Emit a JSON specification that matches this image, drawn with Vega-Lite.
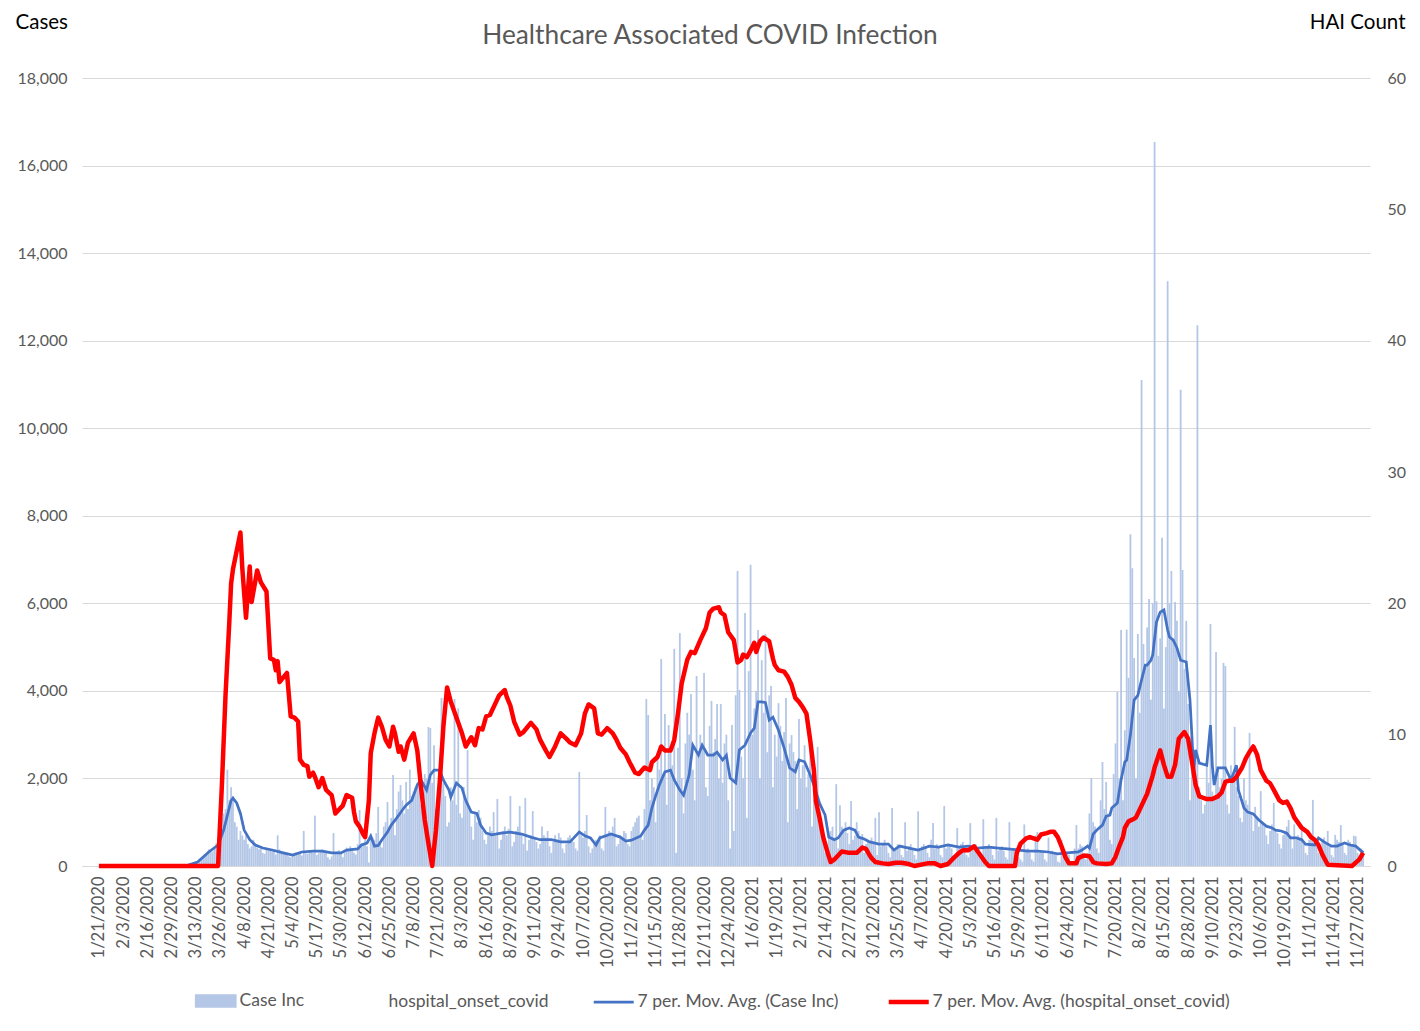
{
"$schema":"https://vega.github.io/schema/vega-lite/v6.json",
"autosize":{"type":"none"},
"width":1288,"height":788,
"padding":{"left":82,"top":78,"right":50,"bottom":165},
"background":"white",
"config":{"font":"Lato","view":{"stroke":null},"axisX":{"tickCount":100,"labelOverlap":false,"labelBound":false,"labelFlush":false,"labelSeparation":-30,"labelAngle":-90,"labelFontSize":16.5,"labelColor":"#595959","labelPadding":10,"ticks":false,"grid":false,"domainColor":"#D9D9D9","title":null}},
"title":{"text":"Healthcare Associated COVID Infection","fontSize":26.3,"fontWeight":"normal","color":"#595959","font":"Lato","anchor":"middle","frame":"group","dx":-16,"dy":47,"offset":10},
"datasets":{
"bars":[
{"d":"2020-03-09","c":20},{"d":"2020-03-10","c":30},{"d":"2020-03-11","c":40},{"d":"2020-03-12","c":60},{"d":"2020-03-13","c":90},{"d":"2020-03-14","c":80},{"d":"2020-03-15","c":120},{"d":"2020-03-16","c":150},{"d":"2020-03-17","c":200},{"d":"2020-03-18","c":260},{"d":"2020-03-19","c":300},{"d":"2020-03-20","c":380},{"d":"2020-03-21","c":340},{"d":"2020-03-22","c":330},{"d":"2020-03-23","c":420},{"d":"2020-03-24","c":520},{"d":"2020-03-25","c":610},{"d":"2020-03-26","c":700},{"d":"2020-03-27","c":1100},{"d":"2020-03-28","c":1200},{"d":"2020-03-29","c":1300},{"d":"2020-03-30","c":2200},{"d":"2020-03-31","c":1500},
{"d":"2020-04-01","c":1800},{"d":"2020-04-02","c":1600},{"d":"2020-04-03","c":1000},{"d":"2020-04-04","c":900},{"d":"2020-04-05","c":600},{"d":"2020-04-06","c":800},{"d":"2020-04-07","c":700},{"d":"2020-04-08","c":600},{"d":"2020-04-09","c":700},{"d":"2020-04-10","c":500},{"d":"2020-04-11","c":400},{"d":"2020-04-12","c":450},{"d":"2020-04-13","c":600},{"d":"2020-04-14","c":480},{"d":"2020-04-15","c":420},{"d":"2020-04-16","c":380},{"d":"2020-04-17","c":400},{"d":"2020-04-18","c":300},{"d":"2020-04-19","c":280},{"d":"2020-04-20","c":420},{"d":"2020-04-21","c":360},{"d":"2020-04-22","c":380},{"d":"2020-04-23","c":330},{"d":"2020-04-24","c":350},{"d":"2020-04-25","c":260},{"d":"2020-04-26","c":700},{"d":"2020-04-27","c":380},{"d":"2020-04-28","c":300},{"d":"2020-04-29","c":320},{"d":"2020-04-30","c":290},
{"d":"2020-05-01","c":300},{"d":"2020-05-02","c":220},{"d":"2020-05-03","c":200},{"d":"2020-05-04","c":280},{"d":"2020-05-05","c":260},{"d":"2020-05-06","c":310},{"d":"2020-05-07","c":290},{"d":"2020-05-08","c":330},{"d":"2020-05-09","c":240},{"d":"2020-05-10","c":800},{"d":"2020-05-11","c":300},{"d":"2020-05-12","c":280},{"d":"2020-05-13","c":340},{"d":"2020-05-14","c":360},{"d":"2020-05-15","c":310},{"d":"2020-05-16","c":1150},{"d":"2020-05-17","c":250},{"d":"2020-05-18","c":290},{"d":"2020-05-19","c":320},{"d":"2020-05-20","c":380},{"d":"2020-05-21","c":350},{"d":"2020-05-22","c":330},{"d":"2020-05-23","c":200},{"d":"2020-05-24","c":150},{"d":"2020-05-25","c":220},{"d":"2020-05-26","c":750},{"d":"2020-05-27","c":300},{"d":"2020-05-28","c":330},{"d":"2020-05-29","c":360},{"d":"2020-05-30","c":280},{"d":"2020-05-31","c":200},
{"d":"2020-06-01","c":350},{"d":"2020-06-02","c":420},{"d":"2020-06-03","c":380},{"d":"2020-06-04","c":450},{"d":"2020-06-05","c":400},{"d":"2020-06-06","c":300},{"d":"2020-06-07","c":260},{"d":"2020-06-08","c":500},{"d":"2020-06-09","c":1280},{"d":"2020-06-10","c":480},{"d":"2020-06-11","c":520},{"d":"2020-06-12","c":600},{"d":"2020-06-13","c":450},{"d":"2020-06-14","c":80},{"d":"2020-06-15","c":700},{"d":"2020-06-16","c":650},{"d":"2020-06-17","c":600},{"d":"2020-06-18","c":750},{"d":"2020-06-19","c":1350},{"d":"2020-06-20","c":500},{"d":"2020-06-21","c":420},{"d":"2020-06-22","c":900},{"d":"2020-06-23","c":1000},{"d":"2020-06-24","c":1460},{"d":"2020-06-25","c":900},{"d":"2020-06-26","c":1100},{"d":"2020-06-27","c":2080},{"d":"2020-06-28","c":700},{"d":"2020-06-29","c":1300},{"d":"2020-06-30","c":1700},
{"d":"2020-07-01","c":1850},{"d":"2020-07-02","c":1500},{"d":"2020-07-03","c":1200},{"d":"2020-07-04","c":1920},{"d":"2020-07-05","c":1300},{"d":"2020-07-06","c":2200},{"d":"2020-07-07","c":1600},{"d":"2020-07-08","c":1700},{"d":"2020-07-09","c":1800},{"d":"2020-07-10","c":1900},{"d":"2020-07-11","c":2000},{"d":"2020-07-12","c":1400},{"d":"2020-07-13","c":1500},{"d":"2020-07-14","c":2100},{"d":"2020-07-15","c":2000},{"d":"2020-07-16","c":3175},{"d":"2020-07-17","c":3150},{"d":"2020-07-18","c":1900},{"d":"2020-07-19","c":2760},{"d":"2020-07-20","c":1300},{"d":"2020-07-21","c":1700},{"d":"2020-07-22","c":2200},{"d":"2020-07-23","c":3840},{"d":"2020-07-24","c":1900},{"d":"2020-07-25","c":1600},{"d":"2020-07-26","c":900},{"d":"2020-07-27","c":1000},{"d":"2020-07-28","c":1800},{"d":"2020-07-29","c":1500},{"d":"2020-07-30","c":3815},{"d":"2020-07-31","c":1400},
{"d":"2020-08-01","c":3600},{"d":"2020-08-02","c":1200},{"d":"2020-08-03","c":1100},{"d":"2020-08-04","c":1800},{"d":"2020-08-05","c":1500},{"d":"2020-08-06","c":2650},{"d":"2020-08-07","c":1300},{"d":"2020-08-08","c":900},{"d":"2020-08-09","c":600},{"d":"2020-08-10","c":1200},{"d":"2020-08-11","c":1000},{"d":"2020-08-12","c":1280},{"d":"2020-08-13","c":1100},{"d":"2020-08-14","c":800},{"d":"2020-08-15","c":600},{"d":"2020-08-16","c":500},{"d":"2020-08-17","c":700},{"d":"2020-08-18","c":900},{"d":"2020-08-19","c":800},{"d":"2020-08-20","c":1230},{"d":"2020-08-21","c":700},{"d":"2020-08-22","c":1530},{"d":"2020-08-23","c":400},{"d":"2020-08-24","c":600},{"d":"2020-08-25","c":800},{"d":"2020-08-26","c":900},{"d":"2020-08-27","c":700},{"d":"2020-08-28","c":850},{"d":"2020-08-29","c":1600},{"d":"2020-08-30","c":450},{"d":"2020-08-31","c":550},
{"d":"2020-09-01","c":800},{"d":"2020-09-02","c":900},{"d":"2020-09-03","c":1370},{"d":"2020-09-04","c":700},{"d":"2020-09-05","c":500},{"d":"2020-09-06","c":1550},{"d":"2020-09-07","c":350},{"d":"2020-09-08","c":600},{"d":"2020-09-09","c":700},{"d":"2020-09-10","c":1255},{"d":"2020-09-11","c":650},{"d":"2020-09-12","c":550},{"d":"2020-09-13","c":400},{"d":"2020-09-14","c":500},{"d":"2020-09-15","c":900},{"d":"2020-09-16","c":700},{"d":"2020-09-17","c":650},{"d":"2020-09-18","c":800},{"d":"2020-09-19","c":450},{"d":"2020-09-20","c":300},{"d":"2020-09-21","c":550},{"d":"2020-09-22","c":700},{"d":"2020-09-23","c":600},{"d":"2020-09-24","c":750},{"d":"2020-09-25","c":650},{"d":"2020-09-26","c":400},{"d":"2020-09-27","c":300},{"d":"2020-09-28","c":500},{"d":"2020-09-29","c":650},{"d":"2020-09-30","c":700},
{"d":"2020-10-01","c":600},{"d":"2020-10-02","c":550},{"d":"2020-10-03","c":400},{"d":"2020-10-04","c":350},{"d":"2020-10-05","c":2150},{"d":"2020-10-06","c":700},{"d":"2020-10-07","c":650},{"d":"2020-10-08","c":800},{"d":"2020-10-09","c":1165},{"d":"2020-10-10","c":450},{"d":"2020-10-11","c":300},{"d":"2020-10-12","c":400},{"d":"2020-10-13","c":500},{"d":"2020-10-14","c":600},{"d":"2020-10-15","c":550},{"d":"2020-10-16","c":700},{"d":"2020-10-17","c":400},{"d":"2020-10-18","c":350},{"d":"2020-10-19","c":1350},{"d":"2020-10-20","c":700},{"d":"2020-10-21","c":800},{"d":"2020-10-22","c":750},{"d":"2020-10-23","c":900},{"d":"2020-10-24","c":1100},{"d":"2020-10-25","c":450},{"d":"2020-10-26","c":500},{"d":"2020-10-27","c":700},{"d":"2020-10-28","c":650},{"d":"2020-10-29","c":800},{"d":"2020-10-30","c":750},{"d":"2020-10-31","c":500},
{"d":"2020-11-01","c":450},{"d":"2020-11-02","c":800},{"d":"2020-11-03","c":900},{"d":"2020-11-04","c":1000},{"d":"2020-11-05","c":1100},{"d":"2020-11-06","c":1150},{"d":"2020-11-07","c":700},{"d":"2020-11-08","c":600},{"d":"2020-11-09","c":1300},{"d":"2020-11-10","c":3815},{"d":"2020-11-11","c":3450},{"d":"2020-11-12","c":1500},{"d":"2020-11-13","c":2000},{"d":"2020-11-14","c":1800},{"d":"2020-11-15","c":1000},{"d":"2020-11-16","c":2500},{"d":"2020-11-17","c":2200},{"d":"2020-11-18","c":4730},{"d":"2020-11-19","c":2100},{"d":"2020-11-20","c":3470},{"d":"2020-11-21","c":1400},{"d":"2020-11-22","c":3220},{"d":"2020-11-23","c":2600},{"d":"2020-11-24","c":2300},{"d":"2020-11-25","c":4960},{"d":"2020-11-26","c":300},{"d":"2020-11-27","c":2700},{"d":"2020-11-28","c":5320},{"d":"2020-11-29","c":2000},{"d":"2020-11-30","c":1200},
{"d":"2020-12-01","c":2800},{"d":"2020-12-02","c":3500},{"d":"2020-12-03","c":3000},{"d":"2020-12-04","c":3930},{"d":"2020-12-05","c":2200},{"d":"2020-12-06","c":1500},{"d":"2020-12-07","c":4340},{"d":"2020-12-08","c":2500},{"d":"2020-12-09","c":3000},{"d":"2020-12-10","c":2800},{"d":"2020-12-11","c":4410},{"d":"2020-12-12","c":1800},{"d":"2020-12-13","c":1600},{"d":"2020-12-14","c":3200},{"d":"2020-12-15","c":3770},{"d":"2020-12-16","c":2600},{"d":"2020-12-17","c":2900},{"d":"2020-12-18","c":3700},{"d":"2020-12-19","c":2000},{"d":"2020-12-20","c":3700},{"d":"2020-12-21","c":1900},{"d":"2020-12-22","c":2800},{"d":"2020-12-23","c":3000},{"d":"2020-12-24","c":1500},{"d":"2020-12-25","c":400},{"d":"2020-12-26","c":3220},{"d":"2020-12-27","c":800},{"d":"2020-12-28","c":3900},{"d":"2020-12-29","c":6740},{"d":"2020-12-30","c":4020},{"d":"2020-12-31","c":2500},
{"d":"2021-01-01","c":2000},{"d":"2021-01-02","c":5780},{"d":"2021-01-03","c":1100},{"d":"2021-01-04","c":4450},{"d":"2021-01-05","c":6880},{"d":"2021-01-06","c":3000},{"d":"2021-01-07","c":3600},{"d":"2021-01-08","c":4000},{"d":"2021-01-09","c":5390},{"d":"2021-01-10","c":2000},{"d":"2021-01-11","c":4700},{"d":"2021-01-12","c":3500},{"d":"2021-01-13","c":5300},{"d":"2021-01-14","c":2600},{"d":"2021-01-15","c":3900},{"d":"2021-01-16","c":4110},{"d":"2021-01-17","c":1800},{"d":"2021-01-18","c":3000},{"d":"2021-01-19","c":2500},{"d":"2021-01-20","c":3720},{"d":"2021-01-21","c":3200},{"d":"2021-01-22","c":2400},{"d":"2021-01-23","c":3060},{"d":"2021-01-24","c":3840},{"d":"2021-01-25","c":1000},{"d":"2021-01-26","c":2800},{"d":"2021-01-27","c":2990},{"d":"2021-01-28","c":2600},{"d":"2021-01-29","c":2400},{"d":"2021-01-30","c":1300},{"d":"2021-01-31","c":3360},
{"d":"2021-02-01","c":2000},{"d":"2021-02-02","c":2300},{"d":"2021-02-03","c":2760},{"d":"2021-02-04","c":1800},{"d":"2021-02-05","c":2100},{"d":"2021-02-06","c":2730},{"d":"2021-02-07","c":900},{"d":"2021-02-08","c":1500},{"d":"2021-02-09","c":1700},{"d":"2021-02-10","c":2720},{"d":"2021-02-11","c":1300},{"d":"2021-02-12","c":1100},{"d":"2021-02-13","c":600},{"d":"2021-02-14","c":300},{"d":"2021-02-15","c":500},{"d":"2021-02-16","c":700},{"d":"2021-02-17","c":800},{"d":"2021-02-18","c":900},{"d":"2021-02-19","c":650},{"d":"2021-02-20","c":1870},{"d":"2021-02-21","c":400},{"d":"2021-02-22","c":1390},{"d":"2021-02-23","c":900},{"d":"2021-02-24","c":800},{"d":"2021-02-25","c":1000},{"d":"2021-02-26","c":750},{"d":"2021-02-27","c":500},{"d":"2021-02-28","c":1485},
{"d":"2021-03-01","c":600},{"d":"2021-03-02","c":700},{"d":"2021-03-03","c":1000},{"d":"2021-03-04","c":800},{"d":"2021-03-05","c":650},{"d":"2021-03-06","c":730},{"d":"2021-03-07","c":300},{"d":"2021-03-08","c":500},{"d":"2021-03-09","c":600},{"d":"2021-03-10","c":550},{"d":"2021-03-11","c":650},{"d":"2021-03-12","c":500},{"d":"2021-03-13","c":1100},{"d":"2021-03-14","c":250},{"d":"2021-03-15","c":1230},{"d":"2021-03-16","c":450},{"d":"2021-03-17","c":500},{"d":"2021-03-18","c":600},{"d":"2021-03-19","c":450},{"d":"2021-03-20","c":300},{"d":"2021-03-21","c":200},{"d":"2021-03-22","c":1325},{"d":"2021-03-23","c":350},{"d":"2021-03-24","c":400},{"d":"2021-03-25","c":500},{"d":"2021-03-26","c":450},{"d":"2021-03-27","c":250},{"d":"2021-03-28","c":200},{"d":"2021-03-29","c":1000},{"d":"2021-03-30","c":350},{"d":"2021-03-31","c":450},
{"d":"2021-04-01","c":500},{"d":"2021-04-02","c":400},{"d":"2021-04-03","c":250},{"d":"2021-04-04","c":150},{"d":"2021-04-05","c":1250},{"d":"2021-04-06","c":350},{"d":"2021-04-07","c":450},{"d":"2021-04-08","c":500},{"d":"2021-04-09","c":450},{"d":"2021-04-10","c":300},{"d":"2021-04-11","c":200},{"d":"2021-04-12","c":600},{"d":"2021-04-13","c":980},{"d":"2021-04-14","c":400},{"d":"2021-04-15","c":500},{"d":"2021-04-16","c":450},{"d":"2021-04-17","c":250},{"d":"2021-04-18","c":200},{"d":"2021-04-19","c":1370},{"d":"2021-04-20","c":400},{"d":"2021-04-21","c":450},{"d":"2021-04-22","c":500},{"d":"2021-04-23","c":400},{"d":"2021-04-24","c":250},{"d":"2021-04-25","c":200},{"d":"2021-04-26","c":870},{"d":"2021-04-27","c":450},{"d":"2021-04-28","c":500},{"d":"2021-04-29","c":550},{"d":"2021-04-30","c":400},
{"d":"2021-05-01","c":250},{"d":"2021-05-02","c":200},{"d":"2021-05-03","c":980},{"d":"2021-05-04","c":400},{"d":"2021-05-05","c":450},{"d":"2021-05-06","c":500},{"d":"2021-05-07","c":400},{"d":"2021-05-08","c":250},{"d":"2021-05-09","c":150},{"d":"2021-05-10","c":1070},{"d":"2021-05-11","c":400},{"d":"2021-05-12","c":450},{"d":"2021-05-13","c":500},{"d":"2021-05-14","c":400},{"d":"2021-05-15","c":250},{"d":"2021-05-16","c":150},{"d":"2021-05-17","c":1100},{"d":"2021-05-18","c":350},{"d":"2021-05-19","c":400},{"d":"2021-05-20","c":450},{"d":"2021-05-21","c":350},{"d":"2021-05-22","c":200},{"d":"2021-05-23","c":150},{"d":"2021-05-24","c":1000},{"d":"2021-05-25","c":350},{"d":"2021-05-26","c":400},{"d":"2021-05-27","c":400},{"d":"2021-05-28","c":350},{"d":"2021-05-29","c":200},{"d":"2021-05-30","c":150},{"d":"2021-05-31","c":100},
{"d":"2021-06-01","c":950},{"d":"2021-06-02","c":350},{"d":"2021-06-03","c":400},{"d":"2021-06-04","c":300},{"d":"2021-06-05","c":150},{"d":"2021-06-06","c":100},{"d":"2021-06-07","c":700},{"d":"2021-06-08","c":775},{"d":"2021-06-09","c":300},{"d":"2021-06-10","c":350},{"d":"2021-06-11","c":300},{"d":"2021-06-12","c":150},{"d":"2021-06-13","c":100},{"d":"2021-06-14","c":650},{"d":"2021-06-15","c":300},{"d":"2021-06-16","c":350},{"d":"2021-06-17","c":300},{"d":"2021-06-18","c":250},{"d":"2021-06-19","c":100},{"d":"2021-06-20","c":80},{"d":"2021-06-21","c":600},{"d":"2021-06-22","c":300},{"d":"2021-06-23","c":350},{"d":"2021-06-24","c":300},{"d":"2021-06-25","c":250},{"d":"2021-06-26","c":100},{"d":"2021-06-27","c":80},{"d":"2021-06-28","c":400},{"d":"2021-06-29","c":935},{"d":"2021-06-30","c":400},
{"d":"2021-07-01","c":500},{"d":"2021-07-02","c":450},{"d":"2021-07-03","c":200},{"d":"2021-07-04","c":150},{"d":"2021-07-05","c":300},{"d":"2021-07-06","c":1200},{"d":"2021-07-07","c":2010},{"d":"2021-07-08","c":1000},{"d":"2021-07-09","c":900},{"d":"2021-07-10","c":400},{"d":"2021-07-11","c":300},{"d":"2021-07-12","c":1500},{"d":"2021-07-13","c":2375},{"d":"2021-07-14","c":1300},{"d":"2021-07-15","c":1920},{"d":"2021-07-16","c":1200},{"d":"2021-07-17","c":600},{"d":"2021-07-18","c":500},{"d":"2021-07-19","c":2100},{"d":"2021-07-20","c":2800},{"d":"2021-07-21","c":3975},{"d":"2021-07-22","c":2000},{"d":"2021-07-23","c":5390},{"d":"2021-07-24","c":1500},{"d":"2021-07-25","c":3100},{"d":"2021-07-26","c":5400},{"d":"2021-07-27","c":4300},{"d":"2021-07-28","c":7580},{"d":"2021-07-29","c":6800},{"d":"2021-07-30","c":4750},{"d":"2021-07-31","c":2000},
{"d":"2021-08-01","c":5300},{"d":"2021-08-02","c":3500},{"d":"2021-08-03","c":11100},{"d":"2021-08-04","c":5070},{"d":"2021-08-05","c":4600},{"d":"2021-08-06","c":5450},{"d":"2021-08-07","c":6100},{"d":"2021-08-08","c":3800},{"d":"2021-08-09","c":6000},{"d":"2021-08-10","c":16540},{"d":"2021-08-11","c":6050},{"d":"2021-08-12","c":4800},{"d":"2021-08-13","c":5200},{"d":"2021-08-14","c":7500},{"d":"2021-08-15","c":3600},{"d":"2021-08-16","c":5000},{"d":"2021-08-17","c":13360},{"d":"2021-08-18","c":6000},{"d":"2021-08-19","c":6740},{"d":"2021-08-20","c":5200},{"d":"2021-08-21","c":6030},{"d":"2021-08-22","c":5600},{"d":"2021-08-23","c":4000},{"d":"2021-08-24","c":10880},{"d":"2021-08-25","c":6760},{"d":"2021-08-26","c":4500},{"d":"2021-08-27","c":5600},{"d":"2021-08-28","c":3700},{"d":"2021-08-29","c":1500},{"d":"2021-08-30","c":3000},{"d":"2021-08-31","c":2500},
{"d":"2021-09-01","c":2400},{"d":"2021-09-02","c":12350},{"d":"2021-09-03","c":1800},{"d":"2021-09-04","c":1500},{"d":"2021-09-05","c":1200},{"d":"2021-09-06","c":1400},{"d":"2021-09-07","c":2300},{"d":"2021-09-08","c":1900},{"d":"2021-09-09","c":5530},{"d":"2021-09-10","c":1700},{"d":"2021-09-11","c":1500},{"d":"2021-09-12","c":4890},{"d":"2021-09-13","c":2200},{"d":"2021-09-14","c":1800},{"d":"2021-09-15","c":2000},{"d":"2021-09-16","c":4640},{"d":"2021-09-17","c":4570},{"d":"2021-09-18","c":1400},{"d":"2021-09-19","c":1200},{"d":"2021-09-20","c":2300},{"d":"2021-09-21","c":1900},{"d":"2021-09-22","c":3180},{"d":"2021-09-23","c":1800},{"d":"2021-09-24","c":1600},{"d":"2021-09-25","c":1100},{"d":"2021-09-26","c":1000},{"d":"2021-09-27","c":2000},{"d":"2021-09-28","c":1500},{"d":"2021-09-29","c":1400},{"d":"2021-09-30","c":3040},
{"d":"2021-10-01","c":1200},{"d":"2021-10-02","c":800},{"d":"2021-10-03","c":1350},{"d":"2021-10-04","c":1100},{"d":"2021-10-05","c":900},{"d":"2021-10-06","c":1710},{"d":"2021-10-07","c":1000},{"d":"2021-10-08","c":900},{"d":"2021-10-09","c":700},{"d":"2021-10-10","c":500},{"d":"2021-10-11","c":800},{"d":"2021-10-12","c":950},{"d":"2021-10-13","c":1440},{"d":"2021-10-14","c":800},{"d":"2021-10-15","c":750},{"d":"2021-10-16","c":500},{"d":"2021-10-17","c":400},{"d":"2021-10-18","c":700},{"d":"2021-10-19","c":800},{"d":"2021-10-20","c":900},{"d":"2021-10-21","c":1050},{"d":"2021-10-22","c":700},{"d":"2021-10-23","c":400},{"d":"2021-10-24","c":950},{"d":"2021-10-25","c":600},{"d":"2021-10-26","c":700},{"d":"2021-10-27","c":650},{"d":"2021-10-28","c":850},{"d":"2021-10-29","c":500},{"d":"2021-10-30","c":300},{"d":"2021-10-31","c":250},
{"d":"2021-11-01","c":600},{"d":"2021-11-02","c":700},{"d":"2021-11-03","c":1510},{"d":"2021-11-04","c":550},{"d":"2021-11-05","c":500},{"d":"2021-11-06","c":300},{"d":"2021-11-07","c":250},{"d":"2021-11-08","c":600},{"d":"2021-11-09","c":650},{"d":"2021-11-10","c":500},{"d":"2021-11-11","c":800},{"d":"2021-11-12","c":450},{"d":"2021-11-13","c":250},{"d":"2021-11-14","c":200},{"d":"2021-11-15","c":710},{"d":"2021-11-16","c":600},{"d":"2021-11-17","c":550},{"d":"2021-11-18","c":935},{"d":"2021-11-19","c":500},{"d":"2021-11-20","c":300},{"d":"2021-11-21","c":250},{"d":"2021-11-22","c":600},{"d":"2021-11-23","c":550},{"d":"2021-11-24","c":500},{"d":"2021-11-25","c":690},{"d":"2021-11-26","c":680},{"d":"2021-11-27","c":300},{"d":"2021-11-28","c":250},{"d":"2021-11-29","c":400},{"d":"2021-11-30","c":350}
],
"cma":[
{"d":"2020-01-21","m":0},{"d":"2020-03-07","m":0},{"d":"2020-03-09","m":20},{"d":"2020-03-14","m":90},{"d":"2020-03-20","m":320},{"d":"2020-03-25","m":480},{"d":"2020-03-28","m":820},{"d":"2020-03-30","m":1160},{"d":"2020-04-01","m":1500},{"d":"2020-04-02","m":1550},{"d":"2020-04-04","m":1440},{"d":"2020-04-06","m":1200},{"d":"2020-04-08","m":820},{"d":"2020-04-11","m":600},{"d":"2020-04-14","m":480},{"d":"2020-04-18","m":410},{"d":"2020-04-23","m":365},{"d":"2020-04-29","m":300},{"d":"2020-05-04","m":250},{"d":"2020-05-09","m":320},{"d":"2020-05-15","m":340},{"d":"2020-05-20","m":340},{"d":"2020-05-25","m":300},{"d":"2020-05-30","m":300},{"d":"2020-06-02","m":365},{"d":"2020-06-08","m":390},{"d":"2020-06-10","m":480},{"d":"2020-06-13","m":525},{"d":"2020-06-15","m":685},{"d":"2020-06-17","m":455},{"d":"2020-06-19","m":470},{"d":"2020-06-21","m":600},{"d":"2020-06-24","m":775},{"d":"2020-06-26","m":935},{"d":"2020-06-29","m":1100},{"d":"2020-07-02","m":1280},{"d":"2020-07-04","m":1390},{"d":"2020-07-07","m":1500},{"d":"2020-07-10","m":1850},{"d":"2020-07-12","m":1965},{"d":"2020-07-15","m":1735},{"d":"2020-07-17","m":2080},{"d":"2020-07-19","m":2190},{"d":"2020-07-22","m":2190},{"d":"2020-07-24","m":1965},{"d":"2020-07-27","m":1735},{"d":"2020-07-28","m":1575},{"d":"2020-07-31","m":1895},{"d":"2020-08-03","m":1780},{"d":"2020-08-05","m":1500},{"d":"2020-08-08","m":1230},{"d":"2020-08-11","m":1200},{"d":"2020-08-13","m":935},{"d":"2020-08-16","m":750},{"d":"2020-08-19","m":710},{"d":"2020-08-24","m":750},{"d":"2020-08-29","m":775},{"d":"2020-09-04","m":730},{"d":"2020-09-09","m":660},{"d":"2020-09-14","m":600},{"d":"2020-09-20","m":600},{"d":"2020-09-25","m":550},{"d":"2020-09-30","m":550},{"d":"2020-10-05","m":775},{"d":"2020-10-08","m":690},{"d":"2020-10-11","m":640},{"d":"2020-10-14","m":480},{"d":"2020-10-16","m":640},{"d":"2020-10-22","m":730},{"d":"2020-10-27","m":660},{"d":"2020-10-30","m":570},{"d":"2020-11-02","m":590},{"d":"2020-11-07","m":685},{"d":"2020-11-09","m":820},{"d":"2020-11-11","m":935},{"d":"2020-11-13","m":1325},{"d":"2020-11-15","m":1600},{"d":"2020-11-17","m":1850},{"d":"2020-11-20","m":2150},{"d":"2020-11-23","m":2190},{"d":"2020-11-25","m":1965},{"d":"2020-11-28","m":1735},{"d":"2020-11-30","m":1620},{"d":"2020-12-03","m":2080},{"d":"2020-12-05","m":2760},{"d":"2020-12-08","m":2535},{"d":"2020-12-10","m":2760},{"d":"2020-12-13","m":2535},{"d":"2020-12-16","m":2535},{"d":"2020-12-18","m":2600},{"d":"2020-12-21","m":2420},{"d":"2020-12-23","m":2530},{"d":"2020-12-25","m":2010},{"d":"2020-12-28","m":1900},{"d":"2020-12-30","m":2650},{"d":"2021-01-02","m":2760},{"d":"2021-01-05","m":3040},{"d":"2021-01-07","m":3150},{"d":"2021-01-09","m":3750},{"d":"2021-01-11","m":3750},{"d":"2021-01-13","m":3730},{"d":"2021-01-15","m":3335},{"d":"2021-01-17","m":3400},{"d":"2021-01-20","m":3100},{"d":"2021-01-23","m":2700},{"d":"2021-01-26","m":2240},{"d":"2021-01-29","m":2150},{"d":"2021-01-31","m":2420},{"d":"2021-02-03","m":2380},{"d":"2021-02-06","m":2080},{"d":"2021-02-08","m":1850},{"d":"2021-02-11","m":1440},{"d":"2021-02-14","m":1165},{"d":"2021-02-16","m":660},{"d":"2021-02-19","m":600},{"d":"2021-02-21","m":640},{"d":"2021-02-24","m":820},{"d":"2021-02-27","m":870},{"d":"2021-03-02","m":820},{"d":"2021-03-04","m":660},{"d":"2021-03-07","m":615},{"d":"2021-03-10","m":550},{"d":"2021-03-15","m":500},{"d":"2021-03-20","m":500},{"d":"2021-03-23","m":365},{"d":"2021-03-26","m":455},{"d":"2021-03-31","m":410},{"d":"2021-04-05","m":365},{"d":"2021-04-11","m":455},{"d":"2021-04-16","m":430},{"d":"2021-04-21","m":480},{"d":"2021-04-27","m":430},{"d":"2021-05-02","m":455},{"d":"2021-05-07","m":410},{"d":"2021-05-13","m":430},{"d":"2021-05-18","m":410},{"d":"2021-05-23","m":390},{"d":"2021-05-29","m":365},{"d":"2021-06-03","m":340},{"d":"2021-06-08","m":340},{"d":"2021-06-14","m":320},{"d":"2021-06-19","m":275},{"d":"2021-06-24","m":300},{"d":"2021-06-30","m":320},{"d":"2021-07-02","m":365},{"d":"2021-07-05","m":455},{"d":"2021-07-06","m":410},{"d":"2021-07-08","m":730},{"d":"2021-07-10","m":820},{"d":"2021-07-13","m":935},{"d":"2021-07-15","m":1140},{"d":"2021-07-17","m":1160},{"d":"2021-07-18","m":1325},{"d":"2021-07-21","m":1440},{"d":"2021-07-23","m":1965},{"d":"2021-07-25","m":2375},{"d":"2021-07-26","m":2420},{"d":"2021-07-28","m":2990},{"d":"2021-07-30","m":3790},{"d":"2021-08-01","m":3900},{"d":"2021-08-03","m":4250},{"d":"2021-08-05","m":4590},{"d":"2021-08-06","m":4590},{"d":"2021-08-08","m":4700},{"d":"2021-08-09","m":4820},{"d":"2021-08-11","m":5570},{"d":"2021-08-13","m":5800},{"d":"2021-08-15","m":5850},{"d":"2021-08-17","m":5390},{"d":"2021-08-18","m":5230},{"d":"2021-08-20","m":5160},{"d":"2021-08-22","m":4980},{"d":"2021-08-24","m":4700},{"d":"2021-08-27","m":4660},{"d":"2021-08-29","m":3790},{"d":"2021-08-31","m":2190},{"d":"2021-09-01","m":2650},{"d":"2021-09-03","m":2350},{"d":"2021-09-07","m":2300},{"d":"2021-09-09","m":3220},{"d":"2021-09-10","m":2300},{"d":"2021-09-11","m":1850},{"d":"2021-09-13","m":2240},{"d":"2021-09-17","m":2240},{"d":"2021-09-20","m":1965},{"d":"2021-09-23","m":2300},{"d":"2021-09-24","m":1735},{"d":"2021-09-27","m":1325},{"d":"2021-09-29","m":1230},{"d":"2021-10-02","m":1190},{"d":"2021-10-05","m":1050},{"d":"2021-10-09","m":910},{"d":"2021-10-12","m":870},{"d":"2021-10-14","m":820},{"d":"2021-10-17","m":800},{"d":"2021-10-20","m":750},{"d":"2021-10-22","m":640},{"d":"2021-10-25","m":640},{"d":"2021-10-28","m":600},{"d":"2021-10-30","m":500},{"d":"2021-11-04","m":480},{"d":"2021-11-06","m":640},{"d":"2021-11-09","m":550},{"d":"2021-11-13","m":455},{"d":"2021-11-16","m":455},{"d":"2021-11-20","m":525},{"d":"2021-11-23","m":480},{"d":"2021-11-26","m":455},{"d":"2021-11-29","m":340},{"d":"2021-11-30","m":300}
],
"hai":[
{"d":"2020-01-21","h":0},{"d":"2020-03-25","h":0},{"d":"2020-03-27","h":6},{"d":"2020-03-29","h":13},{"d":"2020-03-31","h":18.5},{"d":"2020-04-01","h":21.5},{"d":"2020-04-02","h":22.6},{"d":"2020-04-06","h":25.4},{"d":"2020-04-07","h":22.7},{"d":"2020-04-09","h":18.9},{"d":"2020-04-11","h":22.8},{"d":"2020-04-12","h":20.1},{"d":"2020-04-15","h":22.5},{"d":"2020-04-17","h":21.6},{"d":"2020-04-20","h":20.9},{"d":"2020-04-22","h":15.8},{"d":"2020-04-24","h":15.7},{"d":"2020-04-25","h":14.9},{"d":"2020-04-26","h":15.6},{"d":"2020-04-27","h":14},{"d":"2020-05-01","h":14.7},{"d":"2020-05-03","h":11.4},{"d":"2020-05-05","h":11.3},{"d":"2020-05-07","h":11},{"d":"2020-05-08","h":8.1},{"d":"2020-05-10","h":7.7},{"d":"2020-05-12","h":7.6},{"d":"2020-05-13","h":6.8},{"d":"2020-05-15","h":7.1},{"d":"2020-05-16","h":6.8},{"d":"2020-05-18","h":6},{"d":"2020-05-20","h":6.7},{"d":"2020-05-22","h":5.8},{"d":"2020-05-25","h":5.4},{"d":"2020-05-27","h":4},{"d":"2020-05-29","h":4.3},{"d":"2020-05-31","h":4.6},{"d":"2020-06-02","h":5.4},{"d":"2020-06-05","h":5.2},{"d":"2020-06-06","h":4.1},{"d":"2020-06-07","h":3.4},{"d":"2020-06-09","h":3},{"d":"2020-06-11","h":2.4},{"d":"2020-06-12","h":2.2},{"d":"2020-06-14","h":5},{"d":"2020-06-15","h":8.6},{"d":"2020-06-17","h":10.1},{"d":"2020-06-19","h":11.3},{"d":"2020-06-21","h":10.6},{"d":"2020-06-23","h":9.6},{"d":"2020-06-25","h":9.1},{"d":"2020-06-27","h":10.6},{"d":"2020-06-28","h":10.1},{"d":"2020-06-30","h":8.7},{"d":"2020-07-01","h":9.1},{"d":"2020-07-03","h":8.1},{"d":"2020-07-05","h":9.4},{"d":"2020-07-08","h":10.1},{"d":"2020-07-10","h":8.8},{"d":"2020-07-12","h":6},{"d":"2020-07-14","h":3.5},{"d":"2020-07-16","h":1.7},{"d":"2020-07-18","h":0},{"d":"2020-07-20","h":2.7},{"d":"2020-07-22","h":6.3},{"d":"2020-07-24","h":10.6},{"d":"2020-07-26","h":13.6},{"d":"2020-07-28","h":12.5},{"d":"2020-07-30","h":11.7},{"d":"2020-08-01","h":10.9},{"d":"2020-08-03","h":10.1},{"d":"2020-08-05","h":9.1},{"d":"2020-08-08","h":9.8},{"d":"2020-08-10","h":9.2},{"d":"2020-08-12","h":10.5},{"d":"2020-08-14","h":10.4},{"d":"2020-08-16","h":11.4},{"d":"2020-08-18","h":11.5},{"d":"2020-08-21","h":12.4},{"d":"2020-08-23","h":13},{"d":"2020-08-26","h":13.4},{"d":"2020-08-27","h":12.9},{"d":"2020-08-29","h":12.2},{"d":"2020-08-31","h":11},{"d":"2020-09-03","h":10},{"d":"2020-09-05","h":10.2},{"d":"2020-09-09","h":10.9},{"d":"2020-09-12","h":10.4},{"d":"2020-09-14","h":9.6},{"d":"2020-09-17","h":8.8},{"d":"2020-09-19","h":8.3},{"d":"2020-09-22","h":9.1},{"d":"2020-09-25","h":10.1},{"d":"2020-09-28","h":9.7},{"d":"2020-09-30","h":9.4},{"d":"2020-10-03","h":9.2},{"d":"2020-10-06","h":10.1},{"d":"2020-10-08","h":11.6},{"d":"2020-10-10","h":12.3},{"d":"2020-10-13","h":12},{"d":"2020-10-15","h":10.1},{"d":"2020-10-17","h":10},{"d":"2020-10-20","h":10.5},{"d":"2020-10-23","h":10.1},{"d":"2020-10-25","h":9.6},{"d":"2020-10-27","h":9},{"d":"2020-10-30","h":8.5},{"d":"2020-11-01","h":7.9},{"d":"2020-11-04","h":7.1},{"d":"2020-11-06","h":7},{"d":"2020-11-09","h":7.5},{"d":"2020-11-12","h":7.3},{"d":"2020-11-13","h":7.9},{"d":"2020-11-16","h":8.3},{"d":"2020-11-18","h":9.1},{"d":"2020-11-20","h":8.8},{"d":"2020-11-23","h":8.8},{"d":"2020-11-25","h":9.6},{"d":"2020-11-27","h":11.6},{"d":"2020-11-29","h":13.9},{"d":"2020-12-02","h":15.7},{"d":"2020-12-04","h":16.3},{"d":"2020-12-06","h":16.2},{"d":"2020-12-09","h":17.2},{"d":"2020-12-12","h":18.1},{"d":"2020-12-14","h":19.3},{"d":"2020-12-16","h":19.6},{"d":"2020-12-19","h":19.7},{"d":"2020-12-20","h":19.3},{"d":"2020-12-22","h":19.1},{"d":"2020-12-24","h":17.8},{"d":"2020-12-27","h":17.2},{"d":"2020-12-29","h":15.5},{"d":"2020-12-31","h":15.7},{"d":"2021-01-01","h":16.1},{"d":"2021-01-03","h":15.9},{"d":"2021-01-05","h":16.4},{"d":"2021-01-07","h":17},{"d":"2021-01-08","h":16.3},{"d":"2021-01-10","h":17.1},{"d":"2021-01-12","h":17.4},{"d":"2021-01-14","h":17.2},{"d":"2021-01-15","h":17.1},{"d":"2021-01-17","h":15.8},{"d":"2021-01-18","h":15.3},{"d":"2021-01-20","h":14.9},{"d":"2021-01-23","h":14.8},{"d":"2021-01-25","h":14.4},{"d":"2021-01-27","h":13.8},{"d":"2021-01-29","h":12.8},{"d":"2021-01-31","h":12.5},{"d":"2021-02-02","h":12.1},{"d":"2021-02-04","h":11.6},{"d":"2021-02-06","h":9.6},{"d":"2021-02-08","h":7.3},{"d":"2021-02-09","h":5},{"d":"2021-02-11","h":3.7},{"d":"2021-02-13","h":2.2},{"d":"2021-02-15","h":1.2},{"d":"2021-02-17","h":0.3},{"d":"2021-02-19","h":0.5},{"d":"2021-02-21","h":0.8},{"d":"2021-02-23","h":1.1},{"d":"2021-02-27","h":1},{"d":"2021-03-03","h":1},{"d":"2021-03-06","h":1.4},{"d":"2021-03-08","h":1.3},{"d":"2021-03-10","h":0.8},{"d":"2021-03-11","h":0.6},{"d":"2021-03-13","h":0.3},{"d":"2021-03-17","h":0.2},{"d":"2021-03-20","h":0.15},{"d":"2021-03-24","h":0.25},{"d":"2021-03-27","h":0.25},{"d":"2021-03-31","h":0.15},{"d":"2021-04-03","h":0},{"d":"2021-04-10","h":0.2},{"d":"2021-04-14","h":0.2},{"d":"2021-04-17","h":0},{"d":"2021-04-21","h":0.15},{"d":"2021-04-24","h":0.6},{"d":"2021-04-27","h":1},{"d":"2021-04-29","h":1.2},{"d":"2021-05-02","h":1.2},{"d":"2021-05-04","h":1.4},{"d":"2021-05-05","h":1.5},{"d":"2021-05-07","h":1.1},{"d":"2021-05-09","h":0.7},{"d":"2021-05-11","h":0.3},{"d":"2021-05-13","h":0},{"d":"2021-05-27","h":0},{"d":"2021-05-28","h":1},{"d":"2021-05-30","h":1.7},{"d":"2021-06-02","h":2.1},{"d":"2021-06-04","h":2.2},{"d":"2021-06-06","h":2.1},{"d":"2021-06-08","h":2},{"d":"2021-06-10","h":2.4},{"d":"2021-06-13","h":2.5},{"d":"2021-06-15","h":2.6},{"d":"2021-06-17","h":2.6},{"d":"2021-06-19","h":2.2},{"d":"2021-06-21","h":1.5},{"d":"2021-06-23","h":0.7},{"d":"2021-06-25","h":0.2},{"d":"2021-06-29","h":0.2},{"d":"2021-06-30","h":0.6},{"d":"2021-07-03","h":0.8},{"d":"2021-07-06","h":0.75},{"d":"2021-07-08","h":0.3},{"d":"2021-07-10","h":0.2},{"d":"2021-07-15","h":0.15},{"d":"2021-07-18","h":0.2},{"d":"2021-07-20","h":0.7},{"d":"2021-07-22","h":1.5},{"d":"2021-07-24","h":2.2},{"d":"2021-07-25","h":2.9},{"d":"2021-07-27","h":3.4},{"d":"2021-07-30","h":3.6},{"d":"2021-07-31","h":3.7},{"d":"2021-08-01","h":4},{"d":"2021-08-03","h":4.6},{"d":"2021-08-06","h":5.5},{"d":"2021-08-09","h":6.9},{"d":"2021-08-10","h":7.5},{"d":"2021-08-13","h":8.8},{"d":"2021-08-15","h":7.7},{"d":"2021-08-17","h":6.8},{"d":"2021-08-19","h":6.8},{"d":"2021-08-21","h":7.7},{"d":"2021-08-23","h":9.7},{"d":"2021-08-26","h":10.2},{"d":"2021-08-28","h":9.7},{"d":"2021-08-30","h":8},{"d":"2021-09-01","h":6.2},{"d":"2021-09-03","h":5.3},{"d":"2021-09-07","h":5.1},{"d":"2021-09-10","h":5.1},{"d":"2021-09-13","h":5.3},{"d":"2021-09-15","h":5.6},{"d":"2021-09-17","h":6.4},{"d":"2021-09-19","h":6.5},{"d":"2021-09-21","h":6.5},{"d":"2021-09-23","h":6.8},{"d":"2021-09-26","h":7.5},{"d":"2021-09-28","h":8.2},{"d":"2021-09-30","h":8.7},{"d":"2021-10-02","h":9.1},{"d":"2021-10-04","h":8.5},{"d":"2021-10-06","h":7.3},{"d":"2021-10-09","h":6.5},{"d":"2021-10-11","h":6.3},{"d":"2021-10-13","h":5.8},{"d":"2021-10-16","h":5},{"d":"2021-10-18","h":4.8},{"d":"2021-10-20","h":4.9},{"d":"2021-10-22","h":4.4},{"d":"2021-10-24","h":3.7},{"d":"2021-10-26","h":3.3},{"d":"2021-10-28","h":2.9},{"d":"2021-10-31","h":2.6},{"d":"2021-11-02","h":2.2},{"d":"2021-11-04","h":2},{"d":"2021-11-06","h":1.6},{"d":"2021-11-08","h":0.9},{"d":"2021-11-11","h":0.1},{"d":"2021-11-24","h":0},{"d":"2021-11-28","h":0.5},{"d":"2021-11-30","h":1}
]
},
"layer":[
{"data":{"name":"bars"},
"mark":{"type":"bar","size":1.8},
"encoding":{
"x":{"field":"d","type":"temporal",
"scale":{"type":"utc","domain":[{"year":2020,"month":1,"date":14,"hours":14,"minutes":24,"utc":true},{"year":2021,"month":12,"date":1,"utc":true}]},
"axis":{"labelExpr":"utcFormat(datum.value, '%-m/%-d/%Y')","labelOverlap":false,"tickCount":100,
"values":[{"year":2020,"month":1,"date":21,"utc":true},{"year":2020,"month":2,"date":3,"utc":true},{"year":2020,"month":2,"date":16,"utc":true},{"year":2020,"month":2,"date":29,"utc":true},{"year":2020,"month":3,"date":13,"utc":true},{"year":2020,"month":3,"date":26,"utc":true},{"year":2020,"month":4,"date":8,"utc":true},{"year":2020,"month":4,"date":21,"utc":true},{"year":2020,"month":5,"date":4,"utc":true},{"year":2020,"month":5,"date":17,"utc":true},{"year":2020,"month":5,"date":30,"utc":true},{"year":2020,"month":6,"date":12,"utc":true},{"year":2020,"month":6,"date":25,"utc":true},{"year":2020,"month":7,"date":8,"utc":true},{"year":2020,"month":7,"date":21,"utc":true},{"year":2020,"month":8,"date":3,"utc":true},{"year":2020,"month":8,"date":16,"utc":true},{"year":2020,"month":8,"date":29,"utc":true},{"year":2020,"month":9,"date":11,"utc":true},{"year":2020,"month":9,"date":24,"utc":true},{"year":2020,"month":10,"date":7,"utc":true},{"year":2020,"month":10,"date":20,"utc":true},{"year":2020,"month":11,"date":2,"utc":true},{"year":2020,"month":11,"date":15,"utc":true},{"year":2020,"month":11,"date":28,"utc":true},{"year":2020,"month":12,"date":11,"utc":true},{"year":2020,"month":12,"date":24,"utc":true},{"year":2021,"month":1,"date":6,"utc":true},{"year":2021,"month":1,"date":19,"utc":true},{"year":2021,"month":2,"date":1,"utc":true},{"year":2021,"month":2,"date":14,"utc":true},{"year":2021,"month":2,"date":27,"utc":true},{"year":2021,"month":3,"date":12,"utc":true},{"year":2021,"month":3,"date":25,"utc":true},{"year":2021,"month":4,"date":7,"utc":true},{"year":2021,"month":4,"date":20,"utc":true},{"year":2021,"month":5,"date":3,"utc":true},{"year":2021,"month":5,"date":16,"utc":true},{"year":2021,"month":5,"date":29,"utc":true},{"year":2021,"month":6,"date":11,"utc":true},{"year":2021,"month":6,"date":24,"utc":true},{"year":2021,"month":7,"date":7,"utc":true},{"year":2021,"month":7,"date":20,"utc":true},{"year":2021,"month":8,"date":2,"utc":true},{"year":2021,"month":8,"date":15,"utc":true},{"year":2021,"month":8,"date":28,"utc":true},{"year":2021,"month":9,"date":10,"utc":true},{"year":2021,"month":9,"date":23,"utc":true},{"year":2021,"month":10,"date":6,"utc":true},{"year":2021,"month":10,"date":19,"utc":true},{"year":2021,"month":11,"date":1,"utc":true},{"year":2021,"month":11,"date":14,"utc":true},{"year":2021,"month":11,"date":27,"utc":true}]}},
"y":{"field":"c","type":"quantitative","scale":{"domain":[0,18000],"nice":false},
"axis":{"values":[0,2000,4000,6000,8000,10000,12000,14000,16000,18000],"format":",d","grid":true,"gridColor":"#D9D9D9","domain":false,"ticks":false,"labelPadding":15,"labelFontSize":16,"labelColor":"#595959",
"title":"Cases","titleAngle":0,"titleX":-67,"titleY":-56,"titleAlign":"left","titleBaseline":"middle","titleFontSize":20.5,"titleFontWeight":"normal","titleColor":"#000000"}},
"color":{"datum":"Case Inc","type":"nominal",
"scale":{"domain":["Case Inc","hospital_onset_covid","7 per. Mov. Avg. (Case Inc)","7 per. Mov. Avg. (hospital_onset_covid)"],"range":["#B4C7E7","#FFFFFF","#4472C4","#FF0000"]},
"legend":{"orient":"none","legendX":125,"legendY":914,"direction":"horizontal","title":null,"symbolSize":1600,"labelFontSize":17.5,"labelColor":"#595959","labelFont":"Lato","labelLimit":500,"columnPadding":39,"labelOffset":15,
"encode":{"symbols":{"update":{
"shape":{"signal":"datum.value === 'Case Inc' ? 'M-0.975,-0.27H0.975V0.27H-0.975Z' : 'stroke'"},
"strokeWidth":{"signal":"datum.value === '7 per. Mov. Avg. (hospital_onset_covid)' ? 4.5 : 2.75"},
"fill":{"signal":"datum.value === 'Case Inc' ? '#B4C7E7' : 'transparent'"},
"stroke":{"signal":"datum.value === 'Case Inc' ? 'transparent' : (datum.value === '7 per. Mov. Avg. (Case Inc)' ? '#4472C4' : (datum.value === 'hospital_onset_covid' ? 'transparent' : '#FF0000'))"},
"opacity":{"signal":"datum.value === 'hospital_onset_covid' ? 0 : 1"},
"fillOpacity":{"value":1},"strokeOpacity":{"value":1}}}}}}
}},
{"data":{"name":"cma"},
"mark":{"type":"line","strokeWidth":2.75},
"encoding":{
"x":{"field":"d","type":"temporal","axis":{"labelOverlap":false,"tickCount":100}},
"y":{"field":"m","type":"quantitative","scale":{"domain":[0,18000],"nice":false},"axis":null},
"color":{"datum":"7 per. Mov. Avg. (Case Inc)","type":"nominal"}
}},
{"data":{"name":"hai"},
"mark":{"type":"line","strokeWidth":4.5,"strokeJoin":"round"},
"encoding":{
"x":{"field":"d","type":"temporal","axis":{"labelOverlap":false,"tickCount":100}},
"y":{"field":"h","type":"quantitative","scale":{"domain":[0,60],"nice":false},
"axis":{"orient":"right","values":[0,10,20,30,40,50,60],"grid":false,"domain":false,"ticks":false,"labelPadding":17,"labelFontSize":16,"labelColor":"#595959",
"title":"HAI Count","titleAngle":0,"titleX":35,"titleY":-56,"titleAlign":"right","titleBaseline":"middle","titleFontSize":20.5,"titleFontWeight":"normal","titleColor":"#000000"}},
"color":{"datum":"7 per. Mov. Avg. (hospital_onset_covid)","type":"nominal"}
}}
],
"resolve":{"scale":{"y":"independent"}}
}
